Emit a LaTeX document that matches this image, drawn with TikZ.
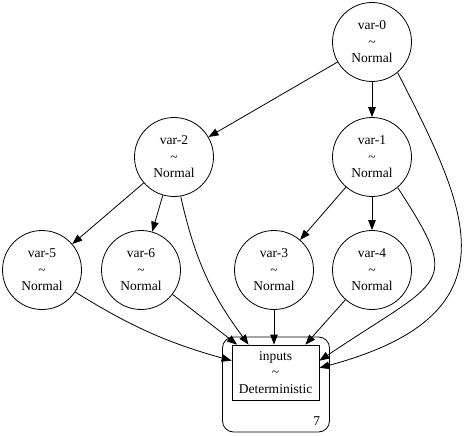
\documentclass[tikz,border=0pt]{standalone}
\usepackage{fontspec}
\setmainfont{Liberation Serif}
\usetikzlibrary{arrows.meta, calc, positioning}

\tikzset{
  rv/.style={draw, circle, minimum size=79pt, inner sep=0pt, align=center,
    font=\fontsize{13.5}{16.5}\selectfont},
  detbox/.style={draw, rectangle, minimum width=87pt, minimum height=55pt,
    inner sep=0pt, align=center, font=\fontsize{13.5}{16.5}\selectfont},
  platebox/.style={draw, rounded corners=11pt, minimum width=107pt,
    minimum height=95pt, inner sep=0pt},
  edge/.style={-{Triangle[length=10pt,width=7.5pt]}, line width=0.8pt}
}

\begin{document}
\begin{tikzpicture}[x=1pt,y=1pt,line width=0.8pt]
    \useasboundingbox (0,0) rectangle (474,-436);

	% random variables
    \node[rv] (v0) at (372,-42)  {var-0\\\textasciitilde\\Normal};
    \node[rv] (v1) at (372,-157) {var-1\\\textasciitilde\\Normal};
    \node[rv] (v2) at (174,-157) {var-2\\\textasciitilde\\Normal};
    \node[rv] (v5) at (42,-270)  {var-5\\\textasciitilde\\Normal};
    \node[rv] (v6) at (141,-270) {var-6\\\textasciitilde\\Normal};
    \node[rv] (v3) at (274,-270) {var-3\\\textasciitilde\\Normal};
    \node[rv] (v4) at (372,-270) {var-4\\\textasciitilde\\Normal};

	% plate with the deterministic node
    \node[platebox] (plate) at (276,-384.5) {};
    \node[font=\fontsize{13.5}{16.5}\selectfont, anchor=south east]
    	(nplate) at ($(plate.south east)+(-6,3)$) {7};
    \node[detbox] (inp) at (275.5,-372.5) {inputs\\\textasciitilde\\Deterministic};

    % edges between the variables
	\draw[edge] (v0) -- (v2);
	\draw[edge] (v0) -- (v1);
	\draw[edge] (v2) -- (v5);
	\draw[edge] (v2) -- (v6);
	\draw[edge] (v1) -- (v3);
	\draw[edge] (v1) -- (v4);

    % edges into inputs
	\draw[edge] (v5) to[bend right=8] (inp.165);
	\draw[edge] (v6) -- (inp.144);
	\draw[edge] (v2) to[bend right=12] (inp.134);
	\draw[edge] (v3) -- (v3 |- inp.north);
	\draw[edge] (v4) -- (inp.43);
	\draw[edge] (v1.-50) .. controls +(-57:120pt) and +(34:150pt) .. (inp.15);
	\draw[edge] (v0.-50) .. controls +(-63:150pt) and +(15:210pt) .. (inp.6);
\end{tikzpicture}
\end{document}
